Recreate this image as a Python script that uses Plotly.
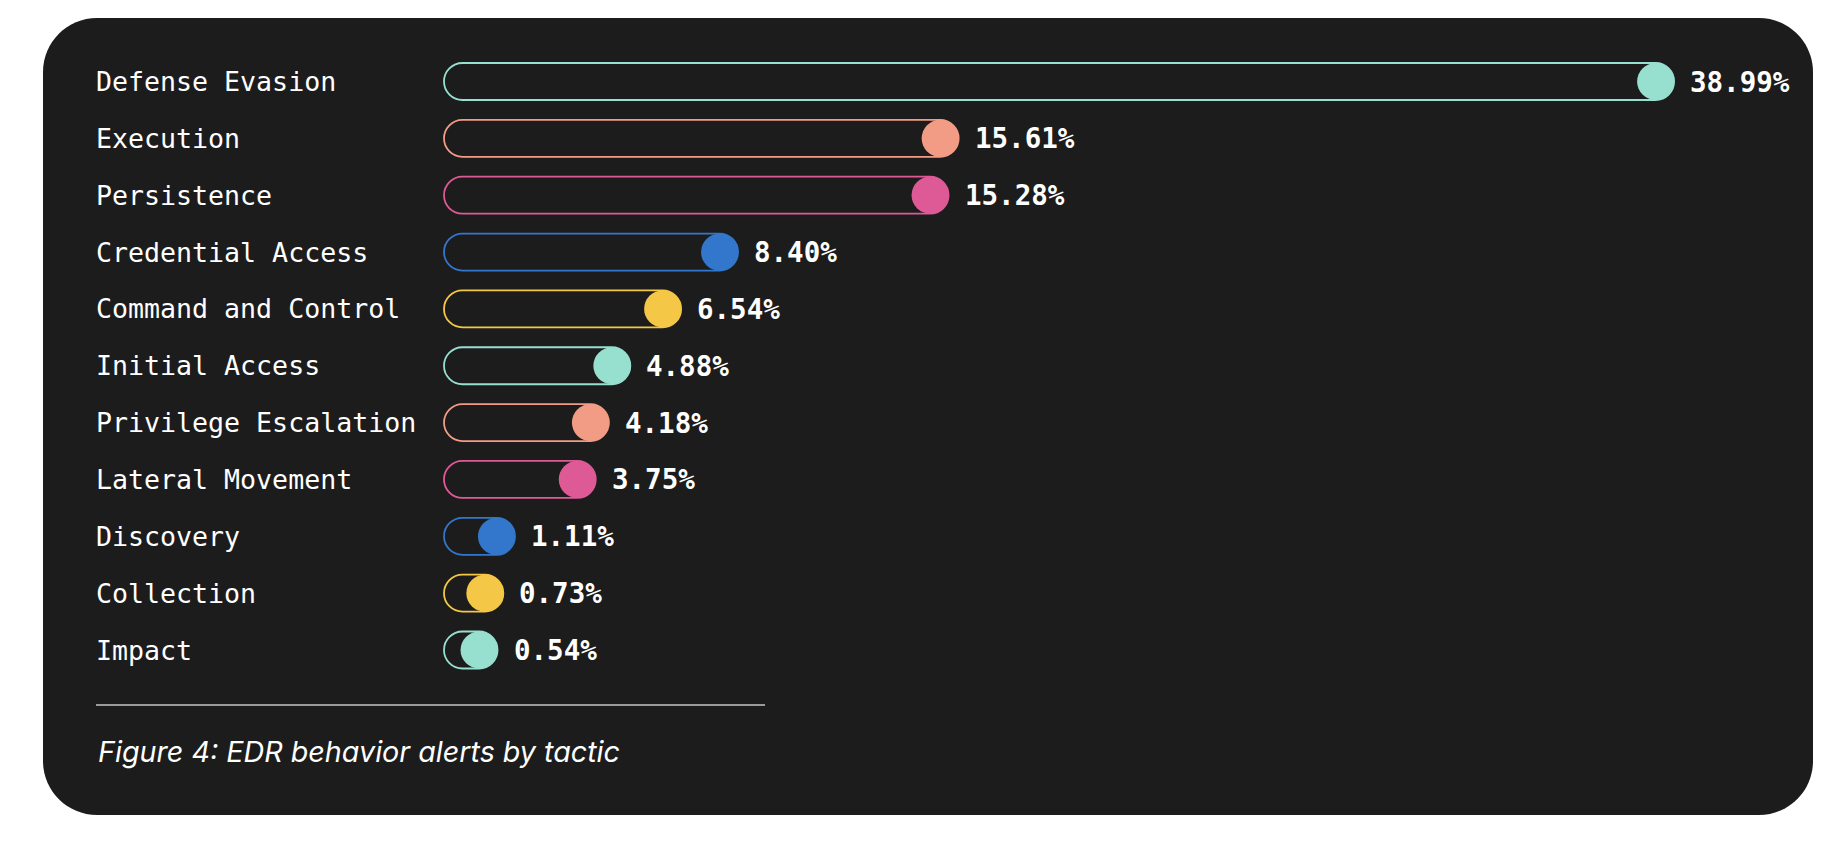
import plotly.graph_objects as go

# ---- data ----
tactics = ["Defense Evasion", "Execution", "Persistence", "Credential Access",
           "Command and Control", "Initial Access", "Privilege Escalation",
           "Lateral Movement", "Discovery", "Collection", "Impact"]
shares = [38.99, 15.61, 15.28, 8.40, 6.54, 4.88, 4.18, 3.75, 1.11, 0.73, 0.54]
value_labels = ["38.99%", "15.61%", "15.28%", "8.40%", "6.54%", "4.88%",
                "4.18%", "3.75%", "1.11%", "0.73%", "0.54%"]
palette = ["#97DFCF", "#F29C85", "#DE5A97", "#3377CC", "#F5C746"]
caption = "Figure 4: EDR behavior alerts by tactic"

# ---- layout geometry (pixels, page coords minus body margin) ----
OFF = 8
W, H = 1824, 828
X0, PXV = 462.5 - OFF, 30.6    # pixel x of value 0 (dot centre), pixels per %
Y0, PYR = 81.5 - OFF, 56.85    # pixel y of first row, pixels per row
R_DOT = 18.5                   # pill half-height / dot radius (px)
CARD = (43 - OFF, 18 - OFF, 1813 - OFF, 815 - OFF)
CARD_R = 54
LABEL_X = 94 - OFF
CAPTION_X = 96 - OFF
BG = "#1C1C1C"
K = 0.5523

xr = [-X0 / PXV, (W - X0) / PXV]
yr = [(H - Y0) / PYR, -Y0 / PYR]

colors = [palette[i % len(palette)] for i in range(len(tactics))]
rows = list(range(len(tactics)))

shapes = []

def pp(x, y):
    return f"{x / W:.6f},{1 - y / H:.6f}"

l, t, r, b = CARD
R = CARD_R
card_path = (
    f"M {pp(l + R, t)} L {pp(r - R, t)} "
    f"C {pp(r - R + K * R, t)} {pp(r, t + R - K * R)} {pp(r, t + R)} "
    f"L {pp(r, b - R)} "
    f"C {pp(r, b - R + K * R)} {pp(r - R + K * R, b)} {pp(r - R, b)} "
    f"L {pp(l + R, b)} "
    f"C {pp(l + R - K * R, b)} {pp(l, b - R + K * R)} {pp(l, b - R)} "
    f"L {pp(l, t + R)} "
    f"C {pp(l, t + R - K * R)} {pp(l + R - K * R, t)} {pp(l + R, t)} Z"
)
shapes.append(dict(type="path", xref="paper", yref="paper", path=card_path,
                   fillcolor=BG, line=dict(width=0), layer="below"))

# pill outlines (data coords)
rx = R_DOT / PXV
ry = R_DOT / PYR
for i, (v, c) in enumerate(zip(shares, colors)):
    yt, yb = i - ry, i + ry
    def q(x, y):
        return f"{x:.5f},{y:.5f}"
    path = (
        f"M {q(0, yt)} L {q(v, yt)} "
        f"C {q(v + K * rx, yt)} {q(v + rx, i - K * ry)} {q(v + rx, i)} "
        f"C {q(v + rx, i + K * ry)} {q(v + K * rx, yb)} {q(v, yb)} "
        f"L {q(0, yb)} "
        f"C {q(-K * rx, yb)} {q(-rx, i + K * ry)} {q(-rx, i)} "
        f"C {q(-rx, i - K * ry)} {q(-K * rx, yt)} {q(0, yt)} Z"
    )
    shapes.append(dict(type="path", xref="x", yref="y", path=path,
                       line=dict(color=c, width=1.8), fillcolor="rgba(0,0,0,0)",
                       layer="below"))

# separator line
sep_y = 1 - (705 - OFF) / H
shapes.append(dict(type="line", xref="paper", yref="paper",
                   x0=CAPTION_X / W, x1=(765 - OFF) / W, y0=sep_y, y1=sep_y,
                   line=dict(color="#9A9A9A", width=2)))

fig = go.Figure()
fig.add_trace(go.Scatter(
    x=shares, y=rows, mode="markers",
    marker=dict(size=2 * R_DOT, color=colors, line=dict(width=0)),
    hoverinfo="skip", showlegend=False,
))

annotations = []
for i, (name, lab, v) in enumerate(zip(tactics, value_labels, shares)):
    annotations.append(dict(
        x=LABEL_X / W, xref="paper", y=i, yref="y", text=name, showarrow=False,
        xanchor="left", yanchor="middle",
        font=dict(family="DejaVu Sans Mono", size=26.6, color="#FFFFFF"),
    ))
    annotations.append(dict(
        x=v, xref="x", y=i, yref="y", text=f"<b>{lab}</b>", showarrow=False,
        xanchor="left", yanchor="middle", xshift=R_DOT + 14,
        font=dict(family="DejaVu Sans Mono", size=27.5, color="#FFFFFF"),
    ))

annotations.append(dict(
    x=CAPTION_X / W, xref="paper", y=1 - (751 - OFF) / H, yref="paper", text=caption,
    showarrow=False, xanchor="left", yanchor="middle",
    font=dict(family="Inter", size=28.7, color="#FFFFFF", style="italic"),
))

fig.update_layout(
    width=W, height=H, margin=dict(l=0, r=0, t=0, b=0),
    paper_bgcolor="#FFFFFF", plot_bgcolor="rgba(0,0,0,0)",
    xaxis=dict(range=xr, visible=False, fixedrange=True),
    yaxis=dict(range=yr, visible=False, fixedrange=True),
    shapes=shapes, annotations=annotations, showlegend=False,
    hovermode=False,
)

fig.write_html("out.html", config={"displayModeBar": False})
